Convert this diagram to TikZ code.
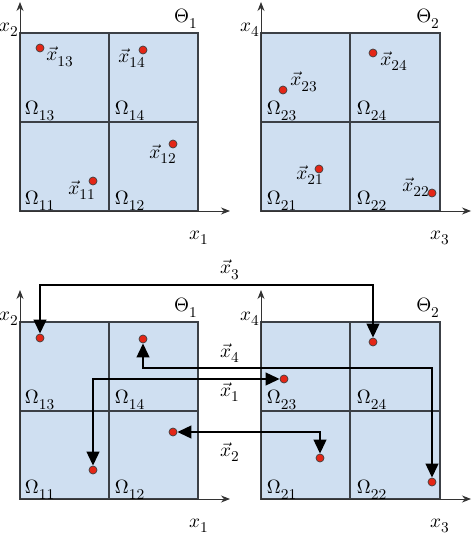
\documentclass[tikz,border=0pt]{standalone}
\usepackage{amsmath}
\usepackage{amssymb}
\usepackage{tikz}
\usetikzlibrary{arrows.meta}

\definecolor{cellblue}{RGB}{207,223,241}
\definecolor{edgegray}{RGB}{60,64,70}
\definecolor{dotred}{RGB}{228,38,22}
\newcommand{\idx}[1]{_{\raisebox{-1.5pt}{\fontsize{8.5}{9}\selectfont #1}}}

\begin{document}
\begin{tikzpicture}[x=0.02cm, y=-0.02cm,
  every node/.style={font=\fontsize{10.5}{12}\selectfont, inner sep=0pt},
  cell/.style={fill=cellblue, draw=edgegray, line width=0.6pt},
  edge/.style={draw=edgegray, line width=0.6pt},
  axis/.style={draw=black!80, line width=0.5pt, -{Stealth[length=1.8mm, width=1.4mm]}},
  sample/.style={circle, draw=black!75, fill=dotred, line width=0.4pt, minimum size=1.6mm},
  link/.style={line width=1.4pt, {Triangle[length=2.8mm, width=2.5mm]}-{Triangle[length=2.8mm, width=2.5mm]}}]
  \useasboundingbox (0,0) rectangle (474,536);

  % top row: the two subspaces
  \draw [cell] (20,33) rectangle (198,211);
  \draw [edge] (109,33) -- (109,211);
  \draw [edge] (20,122) -- (198,122);
  \draw [cell] (261,33) rectangle (440,211);
  \draw [edge] (350,33) -- (350,211);
  \draw [edge] (261,122) -- (440,122);
  \draw [axis] (20,211) -- (20,2);
  \draw [axis] (20,211) -- (230,211);
  \draw [axis] (261,211) -- (261,2);
  \draw [axis] (261,211) -- (471,211);

  \node (ax2) at (9,30) {$x\idx{2}$};
  \node (ax1) at (199,238) {$x\idx{1}$};
  \node (th1) at (186,19) {$\Theta\idx{1}$};
  \node (ax4) at (250,30) {$x\idx{4}$};
  \node (ax3) at (440,238) {$x\idx{3}$};
  \node (th2) at (428,19) {$\Theta\idx{2}$};

  \node (o13) at (40,111) {$\Omega\idx{13}$};
  \node (o14) at (130,111) {$\Omega\idx{14}$};
  \node (o11) at (40,201) {$\Omega\idx{11}$};
  \node (o12) at (130,201) {$\Omega\idx{12}$};
  \node (o23) at (282,111) {$\Omega\idx{23}$};
  \node (o24) at (372,111) {$\Omega\idx{24}$};
  \node (o21) at (282,201) {$\Omega\idx{21}$};
  \node (o22) at (372,201) {$\Omega\idx{22}$};

  \node [sample] (d13) at (40,48) {};
  \node [sample] (d14) at (143,50) {};
  \node [sample] (d12) at (173,144) {};
  \node [sample] (d11) at (93,181) {};
  \node [sample] (d24) at (373,53) {};
  \node [sample] (d23) at (283,90) {};
  \node [sample] (d21) at (319,169) {};
  \node [sample] (d22) at (432,193) {};

  \node (l13) at (60,57) {$\vec{x}\idx{13}$};
  \node (l14) at (132,58) {$\vec{x}\idx{14}$};
  \node (l12) at (163,154) {$\vec{x}\idx{12}$};
  \node (l11) at (82,190) {$\vec{x}\idx{11}$};
  \node (l24) at (394,61) {$\vec{x}\idx{24}$};
  \node (l23) at (304,82) {$\vec{x}\idx{23}$};
  \node (l21) at (310,175) {$\vec{x}\idx{21}$};
  \node (l22) at (416,187) {$\vec{x}\idx{22}$};

  % bottom row: the same subspaces with the combined samples
  \draw [cell] (20,322) rectangle (198,499);
  \draw [edge] (109,322) -- (109,499);
  \draw [edge] (20,411) -- (198,411);
  \draw [cell] (261,322) rectangle (440,499);
  \draw [edge] (350,322) -- (350,499);
  \draw [edge] (261,411) -- (440,411);
  \draw [axis] (20,499) -- (20,290);
  \draw [axis] (20,499) -- (230,499);
  \draw [axis] (261,499) -- (261,290);
  \draw [axis] (261,499) -- (471,499);

  \node (bx2) at (9,319) {$x\idx{2}$};
  \node (bx1) at (199,526) {$x\idx{1}$};
  \node (bth1) at (186,308) {$\Theta\idx{1}$};
  \node (bx4) at (250,319) {$x\idx{4}$};
  \node (bx3) at (440,526) {$x\idx{3}$};
  \node (bth2) at (428,308) {$\Theta\idx{2}$};

  \node (p13) at (40,400) {$\Omega\idx{13}$};
  \node (p14) at (130,400) {$\Omega\idx{14}$};
  \node (p11) at (40,490) {$\Omega\idx{11}$};
  \node (p12) at (130,490) {$\Omega\idx{12}$};
  \node (p23) at (282,400) {$\Omega\idx{23}$};
  \node (p24) at (372,400) {$\Omega\idx{24}$};
  \node (p21) at (282,490) {$\Omega\idx{21}$};
  \node (p22) at (372,490) {$\Omega\idx{22}$};

  \node [sample] (b13) at (40,338) {};
  \node [sample] (b14) at (143,339) {};
  \node [sample] (b12) at (173,432) {};
  \node [sample] (b11) at (93,470) {};
  \node [sample] (b24) at (373,342) {};
  \node [sample] (b23) at (284,379) {};
  \node [sample] (b21) at (320,458) {};
  \node [sample] (b22) at (432,482) {};

  \coordinate (top3) at (0,285);
  \coordinate (mid4) at (0,368);
  \draw [link] (b13) -- (b13 |- top3) -- (b24 |- top3) -- (b24);
  \draw [link] (b14) -- (b14 |- mid4) -- (b22 |- mid4) -- (b22);
  \draw [link] (b11) |- (b23);
  \draw [link] (b12) -| (b21);

  \node (v3) at (230,270) {$\vec{x}\idx{3}$};
  \node (v4) at (230,353) {$\vec{x}\idx{4}$};
  \node (v1) at (230,392) {$\vec{x}\idx{1}$};
  \node (v2) at (230,452) {$\vec{x}\idx{2}$};
\end{tikzpicture}
\end{document}
